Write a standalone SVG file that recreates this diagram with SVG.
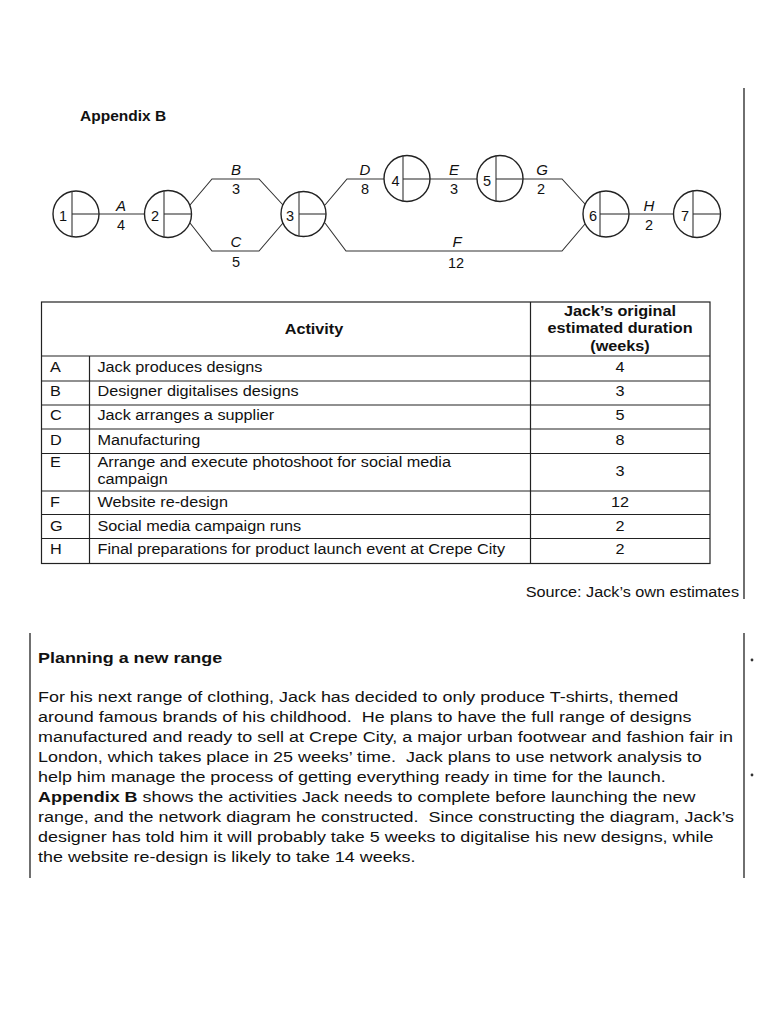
<svg xmlns="http://www.w3.org/2000/svg" width="768" height="1024" viewBox="0 0 768 1024">
<defs>
<style>
text{font-family:"Liberation Sans",Arial,sans-serif;fill:#111}
.lbl{font-size:15px;font-style:italic;text-anchor:middle}
.num{font-size:14.5px;text-anchor:middle}
.node circle{fill:#fff;stroke:#222;stroke-width:1.4}
.node line{stroke:#333;stroke-width:1.1}
.edge{fill:none;stroke:#333;stroke-width:1.1}
.tb{fill:none;stroke:#222;stroke-width:1.2}
.tl{stroke:#222;stroke-width:1.2}
.cell{font-size:14.5px}
.dur{font-size:14.5px;text-anchor:middle}
.hd{font-size:14.5px;font-weight:bold;text-anchor:middle}
.body{font-size:15.5px;white-space:pre}
.pg{stroke:#222;stroke-width:1.3}
</style>
</defs>
<rect width="768" height="1024" fill="#fff"/>
<text x="80" y="121" font-size="15.5" font-weight="bold">Appendix B</text>
<line class="pg" x1="744" y1="88" x2="744" y2="599"/>

<g id="connectors">
<path class="edge" d="M99,214 H144"/>
<path class="edge" d="M190,205 L212,179 H259 L283,205"/>
<path class="edge" d="M190,223 L212,251 H259 L283,223"/>
<path class="edge" d="M325,205 L347,179 H384"/>
<path class="edge" d="M325,223 L346,251 H562 L585,224"/>
<path class="edge" d="M430,179 H478"/>
<path class="edge" d="M522,179 H562 L585,204"/>
<path class="edge" d="M629,214 H674"/>
<text class="lbl" x="121" y="210.5">A</text><text class="num" x="121" y="230">4</text>
<text class="lbl" x="236" y="175">B</text><text class="num" x="236" y="194">3</text>
<text class="lbl" x="236" y="247">C</text><text class="num" x="236" y="266.5">5</text>
<text class="lbl" x="365" y="175">D</text><text class="num" x="365" y="194">8</text>
<text class="lbl" x="454" y="175">E</text><text class="num" x="454" y="194">3</text>
<text class="lbl" x="542" y="175">G</text><text class="num" x="541" y="194">2</text>
<text class="lbl" x="457" y="247">F</text><text class="num" x="456" y="267.5">12</text>
<text class="lbl" x="649" y="210.5">H</text><text class="num" x="649" y="230">2</text>
</g>

<g id="node1" class="node"><circle cx="76" cy="214" r="23"/><line x1="72" y1="191" x2="72" y2="237"/><line x1="72" y1="214" x2="99" y2="214"/><text class="num" x="63" y="221">1</text></g>
<g id="node2" class="node"><circle cx="168" cy="214" r="23.5"/><line x1="164" y1="190.5" x2="164" y2="237.5"/><line x1="164" y1="214" x2="191.5" y2="214"/><text class="num" x="155" y="221">2</text></g>
<g id="node3" class="node"><circle cx="303.5" cy="214" r="22.5"/><line x1="299" y1="191.5" x2="299" y2="236.5"/><line x1="299" y1="214" x2="326" y2="214"/><text class="num" x="290" y="221">3</text></g>
<g id="node4" class="node"><circle cx="407" cy="178.5" r="23"/><line x1="403" y1="155.5" x2="403" y2="201.5"/><line x1="403" y1="179" x2="430" y2="179"/><text class="num" x="395.5" y="185.5">4</text></g>
<g id="node5" class="node"><circle cx="500" cy="178.5" r="23"/><line x1="496" y1="155.5" x2="496" y2="201.5"/><line x1="496" y1="179" x2="523" y2="179"/><text class="num" x="487" y="185.5">5</text></g>
<g id="node6" class="node"><circle cx="606" cy="214" r="23"/><line x1="600" y1="191" x2="600" y2="237"/><line x1="600" y1="214" x2="629" y2="214"/><text class="num" x="593" y="221">6</text></g>
<g id="node7" class="node"><circle cx="697" cy="214" r="23.5"/><line x1="693" y1="190.5" x2="693" y2="237.5"/><line x1="693" y1="214" x2="720.5" y2="214"/><text class="num" x="685" y="221">7</text></g>

<g id="table">
<rect class="tb" x="41.5" y="302" width="668.5" height="261.5"/>
<line class="tl" x1="530.5" y1="302" x2="530.5" y2="563.5"/>
<line class="tl" x1="89.5" y1="356" x2="89.5" y2="563.5"/>
<line class="tl" x1="41.5" y1="356" x2="710" y2="356"/>
<line class="tl" x1="41.5" y1="381" x2="710" y2="381"/>
<line class="tl" x1="41.5" y1="405" x2="710" y2="405"/>
<line class="tl" x1="41.5" y1="429" x2="710" y2="429"/>
<line class="tl" x1="41.5" y1="453.5" x2="710" y2="453.5"/>
<line class="tl" x1="41.5" y1="491" x2="710" y2="491"/>
<line class="tl" x1="41.5" y1="514.5" x2="710" y2="514.5"/>
<line class="tl" x1="41.5" y1="538.5" x2="710" y2="538.5"/>
<g transform="translate(314,0) scale(1.12,1) translate(-314,0)">
<text class="hd" x="314" y="334">Activity</text>
</g>
<g transform="translate(620,0) scale(1.12,1) translate(-620,0)">
<text class="hd" x="620" y="316">Jack’s original</text>
<text class="hd" x="620" y="333.5">estimated duration</text>
<text class="hd" x="620" y="351">(weeks)</text>
<text class="dur" x="620" y="372">4</text>
<text class="dur" x="620" y="396">3</text>
<text class="dur" x="620" y="420">5</text>
<text class="dur" x="620" y="445">8</text>
<text class="dur" x="620" y="476.5">3</text>
<text class="dur" x="620" y="507">12</text>
<text class="dur" x="620" y="531">2</text>
<text class="dur" x="620" y="554.5">2</text>
</g>
<g transform="translate(50,0) scale(1.12,1) translate(-50,0)">
<text class="cell" x="50" y="372">A</text>
<text class="cell" x="50" y="396">B</text>
<text class="cell" x="50" y="420">C</text>
<text class="cell" x="50" y="445">D</text>
<text class="cell" x="50" y="467">E</text>
<text class="cell" x="50" y="507">F</text>
<text class="cell" x="50" y="531">G</text>
<text class="cell" x="50" y="554.5">H</text>
</g>
<g transform="translate(97.5,0) scale(1.12,1) translate(-97.5,0)">
<text class="cell" x="97.5" y="372">Jack produces designs</text>
<text class="cell" x="97.5" y="396">Designer digitalises designs</text>
<text class="cell" x="97.5" y="420">Jack arranges a supplier</text>
<text class="cell" x="97.5" y="445">Manufacturing</text>
<text class="cell" x="97.5" y="467">Arrange and execute photoshoot for social media</text>
<text class="cell" x="97.5" y="484.5">campaign</text>
<text class="cell" x="97.5" y="507">Website re-design</text>
<text class="cell" x="97.5" y="531">Social media campaign runs</text>
<text class="cell" x="97.5" y="554.5">Final preparations for product launch event at Crepe City</text>
</g>
</g>
<g transform="translate(739,0) scale(1.12,1) translate(-739,0)">
<text x="739" y="597" font-size="14.5" text-anchor="end">Source: Jack’s own estimates</text>
</g>

<line class="pg" x1="30" y1="633" x2="30" y2="878"/>
<line class="pg" x1="744" y1="633" x2="744" y2="878"/>
<circle cx="752" cy="660" r="1.4" fill="#333"/>
<circle cx="752" cy="775" r="1.4" fill="#333"/>
<g transform="translate(38,0) scale(1.157,1) translate(-38,0)">
<text x="38" y="663" font-size="15.5" font-weight="bold">Planning a new range</text>
<text class="body" x="38" y="702">For his next range of clothing, Jack has decided to only produce T-shirts, themed</text>
<text class="body" x="38" y="722">around famous brands of his childhood.  He plans to have the full range of designs</text>
<text class="body" x="38" y="742">manufactured and ready to sell at Crepe City, a major urban footwear and fashion fair in</text>
<text class="body" x="38" y="762">London, which takes place in 25 weeks’ time.  Jack plans to use network analysis to</text>
<text class="body" x="38" y="782">help him manage the process of getting everything ready in time for the launch.</text>
<text class="body" x="38" y="802"><tspan font-weight="bold">Appendix B</tspan> shows the activities Jack needs to complete before launching the new</text>
<text class="body" x="38" y="822">range, and the network diagram he constructed.  Since constructing the diagram, Jack’s</text>
<text class="body" x="38" y="842">designer has told him it will probably take 5 weeks to digitalise his new designs, while</text>
<text class="body" x="38" y="862">the website re-design is likely to take 14 weeks.</text>
</g>
</svg>
